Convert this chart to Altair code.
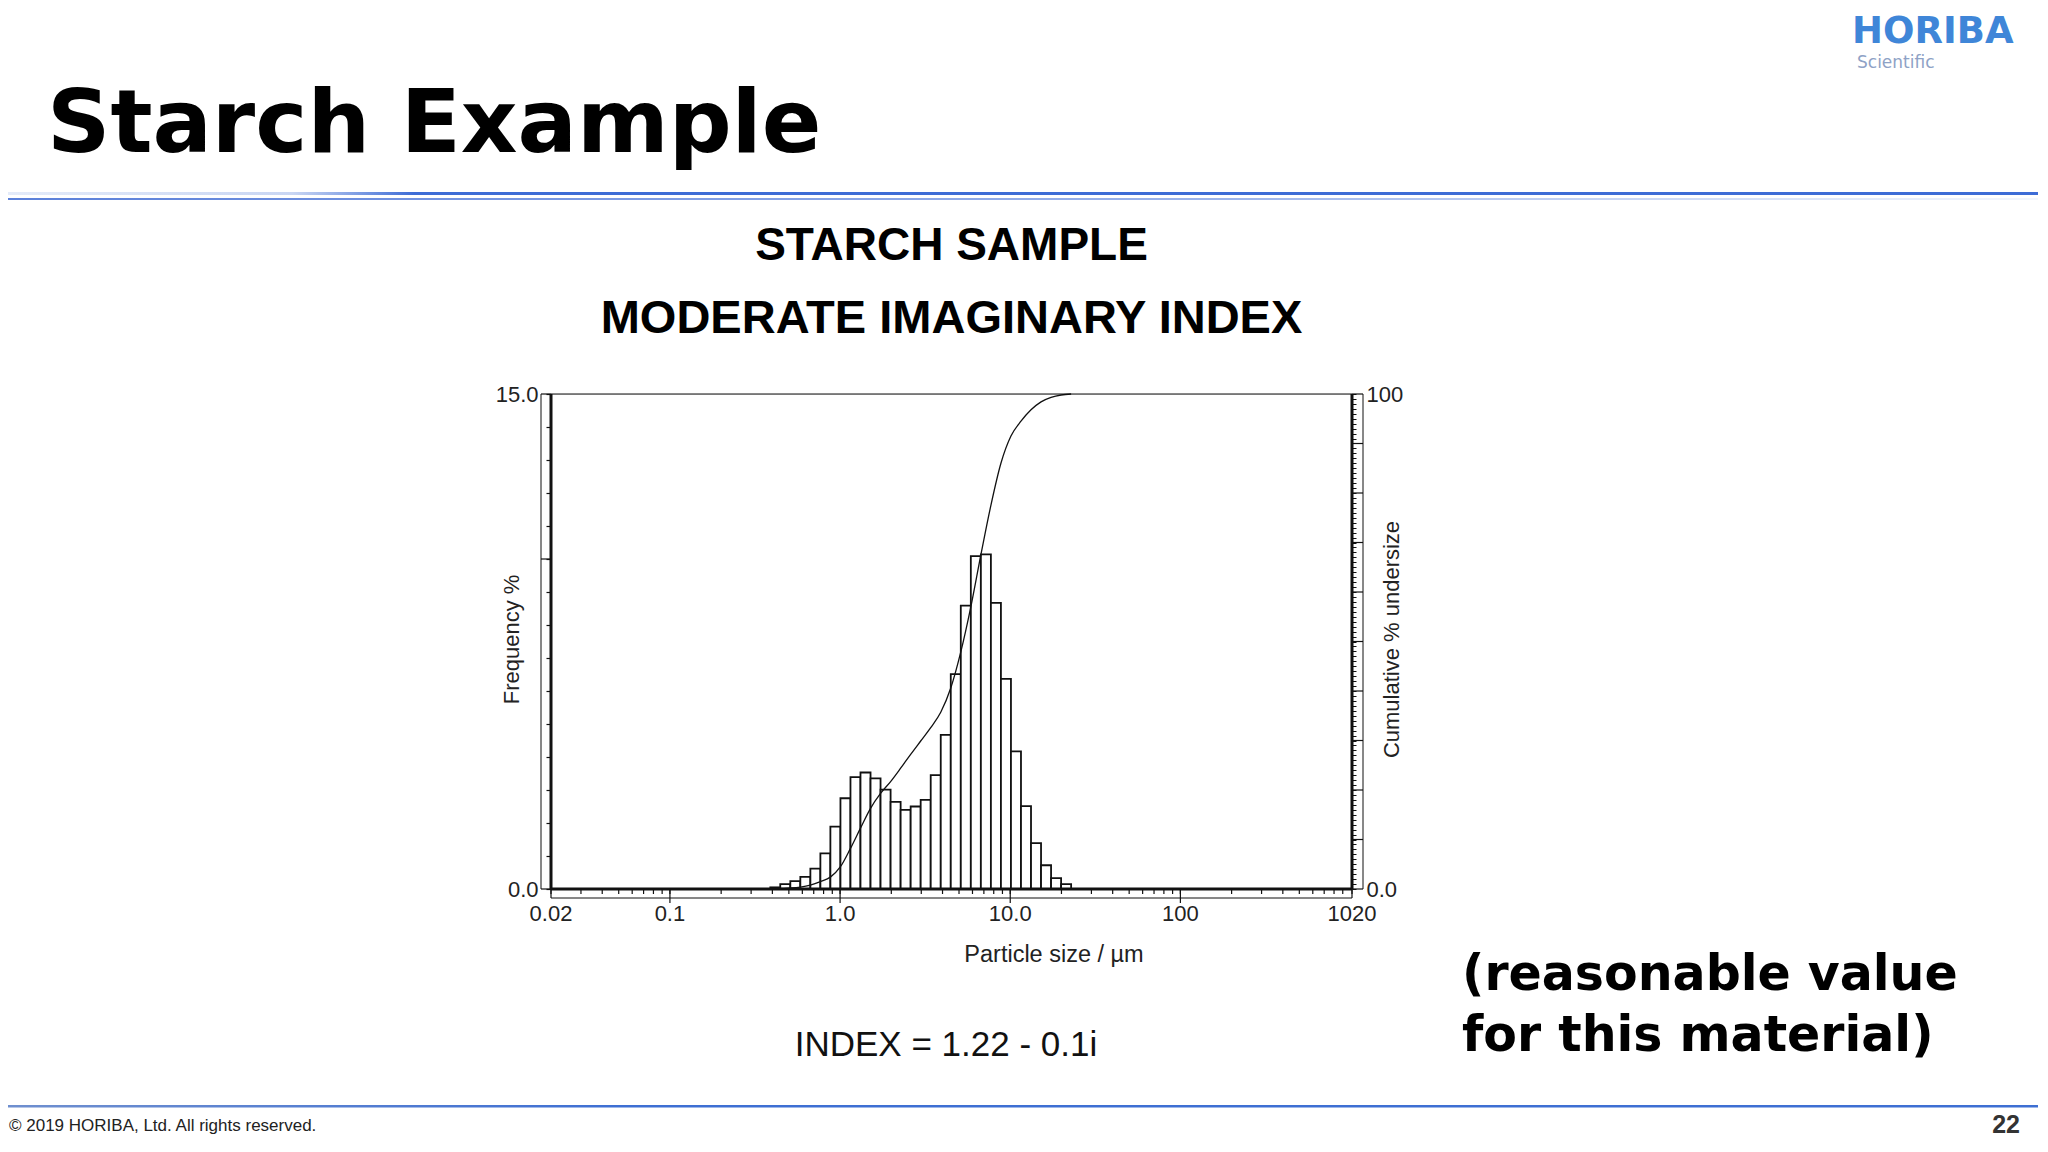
import altair as alt
import pandas as pd

# ---------------- data ----------------
size_edges = [0.389, 0.445, 0.51, 0.584, 0.669, 0.766, 0.877, 1.005, 1.151, 1.318,
              1.51, 1.729, 1.981, 2.269, 2.599, 2.976, 3.409, 3.905, 4.472, 5.122,
              5.867, 6.72, 7.697, 8.816, 10.097, 11.565, 13.246, 15.172, 17.377,
              19.904, 22.797]
frequency = [0.05, 0.15, 0.24, 0.37, 0.62, 1.08, 1.89, 2.75, 3.39, 3.53,
             3.35, 3.01, 2.64, 2.40, 2.50, 2.70, 3.45, 4.67, 6.51, 8.59,
             10.09, 10.14, 8.67, 6.37, 4.17, 2.51, 1.39, 0.72, 0.33, 0.15]
cumulative = [0, 0.1, 0.2, 0.4, 0.8, 1.5, 2.4, 4.5, 8.2, 12.3,
              16.3, 19.3, 21.7, 24.4, 27.2, 29.9, 32.6, 35.7, 40.6, 47.9,
              57.0, 67.5, 77.5, 86.0, 91.5, 94.5, 96.8, 98.4, 99.3, 99.8, 100]

x_tick_values = [0.02, 0.03, 0.04, 0.05, 0.06, 0.07, 0.08, 0.09,
                 0.1, 0.2, 0.3, 0.4, 0.5, 0.6, 0.7, 0.8, 0.9,
                 1, 2, 3, 4, 5, 6, 7, 8, 9,
                 10, 20, 30, 40, 50, 60, 70, 80, 90,
                 100, 200, 300, 400, 500, 600, 700, 800, 900, 1020]
x_label_values = [0.02, 0.1, 1, 10, 100, 1020]
x_label_texts = ["0.02", "0.1", "1.0", "10.0", "100", "1020"]
x_major_ticks = [0.1, 1, 10, 100]
x_end_ticks = [0.02, 1020]

freq_tick_values = [0, 1, 2, 3, 4, 5, 6, 7, 8, 9, 10, 11, 12, 13, 14, 15]
freq_label_values = [0, 15]
freq_label_texts = ["0.0", "15.0"]
freq_major_ticks = [0, 10, 15]

cum_tick_values = list(range(0, 101))
cum_label_values = [0, 100]
cum_label_texts = ["0.0", "100"]
cum_major_ticks = [0, 10, 20, 30, 40, 50, 60, 70, 80, 90, 100]

slide_title = "Starch Example"
logo_main = "HORIBA"
logo_sub = "Scientific"
subtitle_1 = "STARCH SAMPLE"
subtitle_2 = "MODERATE IMAGINARY INDEX"
y_left_title = "Frequency %"
y_right_title = "Cumulative % undersize"
x_title = "Particle size / µm"
index_text = "INDEX = 1.22 - 0.1i"
note_1 = "(reasonable value"
note_2 = "for this material)"
footer_text = "© 2019 HORIBA, Ltd. All rights reserved."
page_number = "22"

# ---------------- layout ----------------
W, H = 801, 495
PAD_L, PAD_T = 543, 386
TOTAL_W, TOTAL_H = 2030, 1130
SANS = "'Liberation Sans', Arial, sans-serif"
HEAVY = "'DejaVu Sans', 'Liberation Sans', sans-serif"
AXF = "'Liberation Sans', Arial, sans-serif"

xscale = alt.Scale(type="log", domain=[0.02, 1020], nice=False)
fscale = alt.Scale(domain=[0, 15], nice=False, zero=False)
cscale = alt.Scale(domain=[0, 100], nice=False, zero=False)


def label_expr(vals, texts):
    expr = "''"
    for v, t in reversed(list(zip(vals, texts))):
        expr = f"datum.value == {v} ? '{t}' : {expr}"
    return expr


bars_df = pd.DataFrame({"lo": size_edges[:-1], "hi": size_edges[1:], "freq": frequency})
cum_df = pd.DataFrame({"size": size_edges, "cum": cumulative})
one = pd.DataFrame({"k": [0]})

bars = alt.Chart(bars_df).mark_rect(fill="white", stroke="#111", strokeWidth=1.8).encode(
    x=alt.X("lo:Q", scale=xscale, axis=None),
    x2="hi:Q",
    y=alt.Y("freq:Q", scale=fscale, axis=alt.Axis(
        orient="left", values=freq_tick_values,
        labelExpr=label_expr(freq_label_values, freq_label_texts),
        tickSize=5, tickWidth=1.2, tickColor="#111", labelPadding=8,
        labelFont=AXF, labelFontSize=22, labelColor="#222",
        labelOverlap=False, domain=False, grid=False, title=None)),
    y2=alt.datum(0),
)

cum_line = alt.Chart(cum_df).mark_line(color="#111", strokeWidth=1.3, interpolate="monotone").encode(
    x=alt.X("size:Q", scale=xscale, axis=None),
    y=alt.Y("cum:Q", scale=cscale, axis=alt.Axis(
        orient="right", values=cum_tick_values,
        labelExpr=label_expr(cum_label_values, cum_label_texts),
        tickSize=4, tickWidth=1, tickColor="#111", labelPadding=10,
        labelFont=AXF, labelFontSize=22, labelColor="#222",
        labelOverlap=False, domain=False, grid=False, title=None)),
)


def rule(x, x2, y, y2, width, color="#111"):
    return alt.Chart(one).mark_rule(color=color, strokeWidth=width).encode(
        x=alt.value(x), x2=alt.value(x2), y=alt.value(y), y2=alt.value(y2))


frame = [
    rule(0, 0, 0, H, 3),          # left border
    rule(0, W, H, H, 3),          # bottom border
    rule(W, W, 0, H, 3),          # right border
    rule(0, W, 0, 0, 1.2),        # top border
    rule(-10, -10, 0, H, 1),      # outer left line
    rule(0, W, H + 9, H + 9, 1),  # outer bottom line
    rule(W + 11, W + 11, 0, H, 1),  # outer right line
]

freq_major = alt.Chart(pd.DataFrame({"v": freq_major_ticks})).mark_rule(color="#111", strokeWidth=1.2).encode(
    y=alt.Y("v:Q", scale=fscale, axis=None), x=alt.value(-10), x2=alt.value(0))
cum_major = alt.Chart(pd.DataFrame({"v": cum_major_ticks})).mark_rule(color="#111", strokeWidth=1.2).encode(
    y=alt.Y("v:Q", scale=cscale, axis=None), x=alt.value(W), x2=alt.value(W + 11))
x_minor = alt.Chart(pd.DataFrame({"v": x_tick_values})).mark_rule(color="#111", strokeWidth=1.2).encode(
    x=alt.X("v:Q", scale=xscale, axis=None), y=alt.value(H), y2=alt.value(H + 5))
x_major = alt.Chart(pd.DataFrame({"v": x_major_ticks})).mark_rule(color="#111", strokeWidth=1.2).encode(
    x=alt.X("v:Q", scale=xscale, axis=None), y=alt.value(H), y2=alt.value(H + 14))
x_ends = alt.Chart(pd.DataFrame({"v": x_end_ticks})).mark_rule(color="#111", strokeWidth=1.2).encode(
    x=alt.X("v:Q", scale=xscale, axis=None), y=alt.value(H), y2=alt.value(H + 9))
x_labels = alt.Chart(pd.DataFrame({"v": x_label_values, "t": x_label_texts})).mark_text(
    font=AXF, fontSize=22, color="#222", align="center", baseline="alphabetic").encode(
    x=alt.X("v:Q", scale=xscale, axis=None), y=alt.value(527), text="t:N")


def txt(text, x, y, size, weight="normal", align="left", font=SANS, color="#000",
        angle=0, baseline="alphabetic"):
    return alt.Chart(one).mark_text(
        text=text, fontSize=size, fontWeight=weight, align=align, font=font,
        color=color, angle=angle, baseline=baseline).encode(
        x=alt.value(x), y=alt.value(y))


def band(x, x2, y, y2, stops):
    return alt.Chart(one).mark_rect(fill={
        "gradient": "linear", "x1": 0, "x2": 1, "y1": 0, "y2": 0,
        "stops": [{"offset": o, "color": c} for o, c in stops]}).encode(
        x=alt.value(x), x2=alt.value(x2), y=alt.value(y), y2=alt.value(y2))


L = -PAD_L
R = TOTAL_W - PAD_L
texts = [
    band(L, R, -202, -199, [(0, "#e4ebf9"), (0.14, "#c9d6f3"), (0.2, "#3d6cd6"), (1, "#3d6cd6")]),
    band(L, R, -196, -194, [(0, "#5b80da"), (0.6, "#9db4ea"), (1, "#f4f7fd")]),
    band(L, R, 711, 713.5, [(0, "#6f8fcf"), (0.3, "#3e6fd3"), (1, "#3e6fd3")]),
    txt(slide_title, -504, -242, 88, weight="bold", font=HEAVY),
    txt(logo_main, 1301, -351, 37, weight="bold", font=HEAVY, color="#3f86d8"),
    txt(logo_sub, 1306, -326, 17, color="#8ea2c6", font="'DejaVu Sans', sans-serif"),
    txt(subtitle_1, W / 2, -134, 46, weight="bold", align="center"),
    txt(subtitle_2, W / 2, -61, 47, weight="bold", align="center"),
    txt(y_left_title, -39, H / 2 - 2, 22, align="center", font=AXF, color="#222",
        angle=270, baseline="middle"),
    txt(y_right_title, 841, H / 2 - 2, 22, align="center", font=AXF, color="#222",
        angle=270, baseline="middle"),
    txt(x_title, 503, 568, 23.5, align="center", font=AXF, color="#222"),
    txt(index_text, 395, 662, 35, align="center", color="#111"),
    txt(note_1, 911, 596, 49, weight="bold", font=HEAVY),
    txt(note_2, 911, 657, 49, weight="bold", font=HEAVY),
    txt(footer_text, -542, 737, 17, color="#222"),
    txt(page_number, 1469, 739, 25, weight="bold", align="right", color="#333"),
]

chart = alt.layer(
    bars, cum_line, *frame, freq_major, cum_major, x_minor, x_major, x_ends, x_labels, *texts
).resolve_scale(y="independent").properties(
    width=W, height=H,
    autosize=alt.AutoSizeParams(type="none"),
    padding={"left": PAD_L, "top": PAD_T, "right": TOTAL_W - PAD_L - W,
             "bottom": TOTAL_H - PAD_T - H},
).configure_view(stroke=None).configure(background="white")

chart.save("out.html", embed_options={"renderer": "svg", "actions": False})
